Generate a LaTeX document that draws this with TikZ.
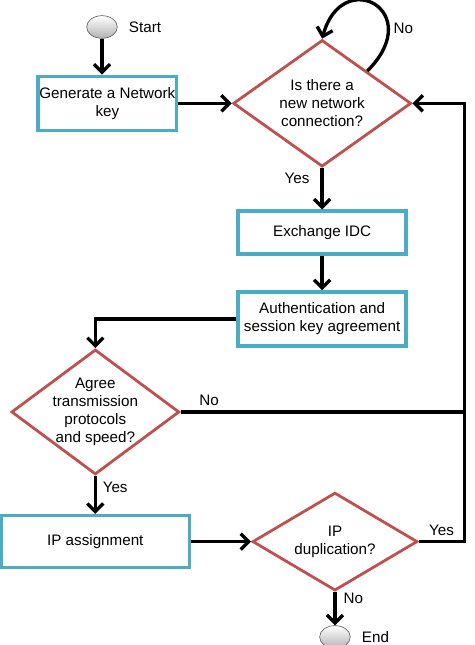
\documentclass[tikz,border=0pt]{standalone}
\usepackage{fontspec}
\setmainfont{Liberation Sans}
\usepackage{tikz}
\usetikzlibrary{shapes,arrows.meta,positioning,calc}
\definecolor{boxblue}{HTML}{4BACC6}
\definecolor{diared}{HTML}{C0504D}
\tikzstyle{terminal} = [ellipse, draw=black!70, thin, top color=white, bottom color=gray!60, minimum width=23pt, minimum height=17pt, inner sep=0pt]
\tikzstyle{process} = [rectangle, draw=boxblue, fill=white, line width=2.6pt, minimum width=126pt, minimum height=32pt, inner sep=1pt, align=center]
\tikzstyle{decision} = [diamond, draw=diared, fill=white, line width=2.1pt, aspect=1.4, inner sep=-8pt, align=center]
\tikzstyle{arrow} = [line width=2.5pt, -{Straight Barb[length=6pt,width=12pt,line width=2.5pt]}]
\tikzstyle{line} = [line width=2.5pt]

\begin{document}
\begin{tikzpicture}[font=\fontsize{11.4}{13.5}\selectfont]
\useasboundingbox (-76.5pt,20.25pt) rectangle (279pt,-463.5pt);

% Start und Schluesselerzeugung
\node (start) [terminal] {};
\node (startlbl) [right=5pt of start] {Start};
\node (genkey) [process, below=27pt of start, xshift=4pt, minimum width=104pt, minimum height=40.5pt] {Generate a Network\\key};

% Abfrage neue Verbindung
\node (newconn) [decision, right=40pt of genkey, minimum width=133.5pt, minimum height=95pt] {Is there a\\new network\\connection?};
\node (exchange) [process, below=31pt of newconn] {Exchange IDC};
\node (auth) [process, below=26pt of exchange, minimum height=40.5pt] {Authentication and\\session key agreement};

% Protokoll und IP
\node (agree) [decision, below=162pt of genkey, xshift=-9pt, minimum width=126pt, minimum height=93.75pt] {Agree\\transmission\\protocols\\and speed?};
\node (ipassign) [process, below=28.5pt of agree, minimum width=141pt, minimum height=39pt] {IP assignment};
\node (ipdup) [decision, right=45pt of ipassign, minimum width=123.75pt, minimum height=73.5pt] {IP\\duplication?};
\node (stop) [terminal, below=25pt of ipdup] {};
\node (stoplbl) [right=5pt of stop] {End};
\coordinate (rt) at ($(ipdup.east)+(34pt,0)$);

% Pfeile
\draw [arrow] (start) -- (start |- genkey.north);
\draw [arrow] (genkey) -- (newconn);
\draw [arrow] (newconn.north east) .. controls +(45pt,45pt) and +(15pt,55pt) .. (newconn.north);
\draw [arrow] (newconn) -- node[pos=0.25, left=5pt] {Yes} (exchange);
\draw [arrow] (exchange) -- (auth);
\draw [arrow] (auth.west) -| (agree.north);
\draw [arrow] (agree) -- node[pos=0.3, right=1pt] {Yes} (ipassign);
\draw [arrow] (ipassign) -- (ipdup);
\draw [arrow] (ipdup) -- node[pos=0.2, right=2pt] {No} (stop);

% Rueckfuehrung rechts
\draw [arrow] (ipdup.east) -- node[midway, above] {Yes} (rt) |- (newconn.east);
\draw [line] (agree.east) -- node[pos=0.1, above] {No} (agree.east -| rt);

% Beschriftung Schleife
\node (loopno) at ($(newconn.north east)+(27pt,32pt)$) {No};

\end{tikzpicture}
\end{document}
